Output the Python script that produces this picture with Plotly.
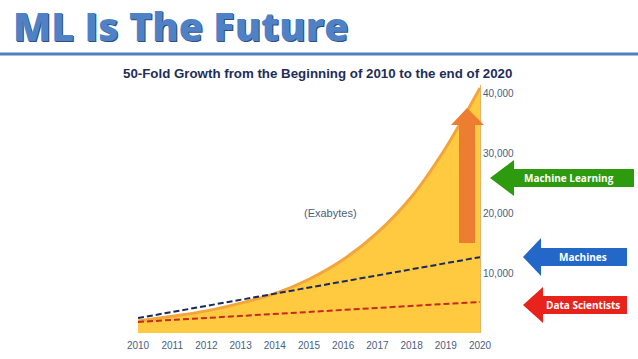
import plotly.graph_objects as go

# ---- data ----
years = [2010, 2011, 2012, 2013, 2014, 2015, 2016, 2017, 2018, 2019, 2020]
data_growth = [2000, 2800, 3700, 5000, 6600, 9000, 12300, 16800, 22800, 31000, 41000]
machines_years = [2010, 2020]
machines = [2500, 12700]
scientists_years = [2010, 2020]
scientists = [1850, 5200]
y_tickvals = [10000, 20000, 30000, 40000]
y_ticktext = ["10,000", "20,000", "30,000", "40,000"]

W, H = 638, 359
L, R, T, B = 138, 480, 85, 333  # plot area in pixels


def px(x):
    return (x - L) / (R - L)


def py(y):
    return (B - y) / (B - T)


fig = go.Figure()

fig.add_trace(go.Scatter(
    x=years, y=data_growth, mode="lines", fill="tozeroy",
    line=dict(color="#F3A53C", width=3, shape="spline", smoothing=0.8),
    fillcolor="#FFC940", hoverinfo="skip", showlegend=False))
fig.add_trace(go.Scatter(
    x=machines_years, y=machines, mode="lines",
    line=dict(color="#1B2A5C", width=2, dash="6px,3px"), showlegend=False))
fig.add_trace(go.Scatter(
    x=scientists_years, y=scientists, mode="lines",
    line=dict(color="#C62A1E", width=2, dash="6px,3px"), showlegend=False))

shapes = []


def poly(points, color):
    d = "M " + " L ".join(f"{px(a):.5f},{py(b):.5f}" for a, b in points) + " Z"
    shapes.append(dict(type="path", path=d, xref="paper", yref="paper",
                       fillcolor=color, line=dict(width=0), layer="above"))


def left_arrow(tip_x, cy, head_back, head_half, body_half, right, color):
    poly([(tip_x, cy), (head_back, cy - head_half), (head_back, cy - body_half),
          (right, cy - body_half), (right, cy + body_half), (head_back, cy + body_half),
          (head_back, cy + head_half)], color)


# orange up arrow
poly([(467, 108), (484, 125), (475, 125), (475, 243), (459, 243), (459, 125), (451, 125)], "#ED7D31")
# right side arrows
left_arrow(490, 178, 514, 18, 9, 634, "#2E9A0E")
left_arrow(523, 257, 541, 19, 9, 627, "#2368C8")
left_arrow(523, 305, 543, 18, 9, 627, "#E8231C")

# title underline
shapes.append(dict(type="line", xref="paper", yref="paper",
                   x0=px(0), x1=px(638), y0=py(54), y1=py(54),
                   line=dict(color="#4F81C2", width=3)))

ann = []
title = "ML Is The Future"
ann.append(dict(text=title, x=px(12), y=py(27), xref="paper", yref="paper",
                xanchor="left", yanchor="middle", showarrow=False,
                font=dict(family="Open Sans", size=39.5, color="#2F4F80", weight=800)))
ann.append(dict(text=title, x=px(11), y=py(26), xref="paper", yref="paper",
                xanchor="left", yanchor="middle", showarrow=False,
                font=dict(family="Open Sans", size=39.5, color="#4F81C7", weight=800)))
ann.append(dict(text="<b>50-Fold Growth from the Beginning of 2010 to the end of 2020</b>",
                x=px(317), y=py(74), xref="paper", yref="paper", xanchor="center",
                yanchor="middle", showarrow=False,
                font=dict(family="Liberation Sans, Arial", size=13.3, color="#1F2D5A")))
ann.append(dict(text="(Exabytes)", x=px(330), y=py(213), xref="paper", yref="paper",
                xanchor="center", yanchor="middle", showarrow=False,
                font=dict(family="Liberation Sans Narrow, Arial Narrow, Liberation Sans", size=11,
                          color="#4A5E82")))
for text, cx, cy in [("<b>Machine Learning</b>", 569, 178), ("<b>Machines</b>", 583, 257),
                     ("<b>Data Scientists</b>", 583, 305)]:
    ann.append(dict(text=text, x=px(cx), y=py(cy), xref="paper", yref="paper",
                    xanchor="center", yanchor="middle", showarrow=False,
                    font=dict(family="Open Sans", size=10, color="white")))

fig.update_layout(
    width=W, height=H,
    margin=dict(l=L, r=W - R, t=T, b=H - B, pad=0, autoexpand=False),
    paper_bgcolor="white", plot_bgcolor="white",
    shapes=shapes, annotations=ann, showlegend=False,
    xaxis=dict(range=[2010, 2020], tickvals=years, ticktext=[str(y) for y in years],
               automargin=False,
               showgrid=False, zeroline=False, showline=False, ticks="", ticklabelstandoff=5,
               tickfont=dict(family="Liberation Sans Narrow, Arial Narrow, Liberation Sans",
                             size=10, color="#4A5E82")),
    yaxis=dict(range=[0, 41500], side="right", tickvals=y_tickvals, ticktext=y_ticktext,
               automargin=False,
               showgrid=False, zeroline=False, showline=True, linecolor="#E2B46A", linewidth=1,
               ticks="", ticklabelstandoff=0,
               tickfont=dict(family="Liberation Sans Narrow, Arial Narrow, Liberation Sans",
                             size=10, color="#4A5E82")),
)

fig.write_html("out.html", config={"displayModeBar": False},
               post_script="document.body.style.margin='0';")
